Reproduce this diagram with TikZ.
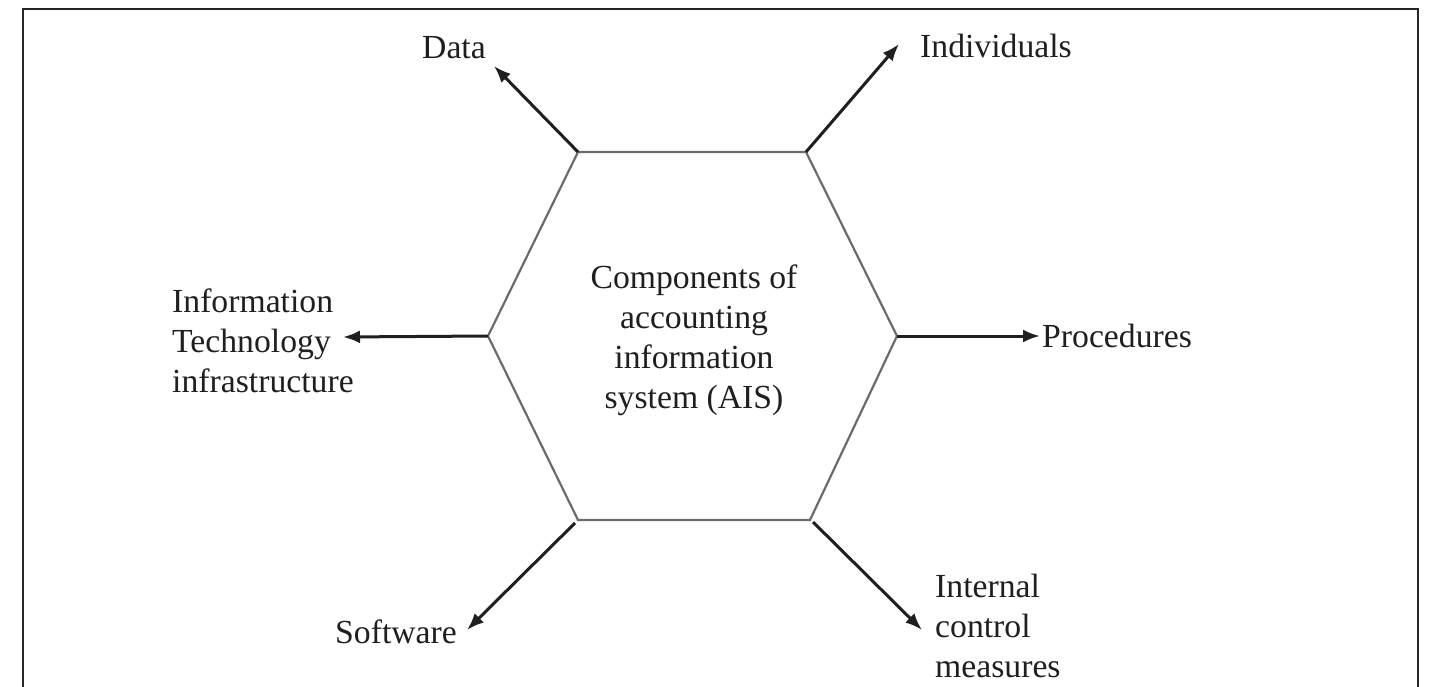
\documentclass[tikz,border=0pt]{standalone}
\usepackage{fontspec}
\setmainfont{Liberation Serif}
\usetikzlibrary{arrows.meta}
\begin{document}
\begin{tikzpicture}[x=1pt,y=-1pt,
  lbl/.style={font=\fontsize{33.7}{40}\selectfont, inner sep=0pt, align=left, text=black!88},
  hexline/.style={draw=black!58, line width=2.2pt, line join=miter},
  arr/.style={-{Latex[length=17pt,width=13pt]}, line width=3pt, draw=black!88},
  frame/.style={draw=black!85, line width=2.5pt}]
\useasboundingbox (0,0) rectangle (1436,687);
% frame (bottom edge lies below the picture)
\draw[frame] (23,687) -- (23,9) -- (1418,9) -- (1418,687);
% hexagon vertices
\coordinate (hTL) at (578,152);
\coordinate (hTR) at (806,152);
\coordinate (hR)  at (897,336);
\coordinate (hBR) at (810,520);
\coordinate (hBL) at (578,520);
\coordinate (hL)  at (488,336);
\draw[hexline] (hTL) -- (hTR) -- (hR) -- (hBR) -- (hBL) -- (hL) -- cycle;
% labels
\node[lbl, align=center] (ais) at (694,340) {Components of\\accounting\\information\\system (AIS)};
\node[lbl, anchor=base] (data) at (454,59) {Data};
\node[lbl, anchor=base west] (indiv) at (920,58) {Individuals};
\node[lbl, anchor=base west] (proc) at (1042,347) {Procedures};
\node[lbl, anchor=west] (itinf) at (172,341) {Information\\Technology\\infrastructure};
\node[lbl, anchor=base west] (soft) at (335,643) {Software};
\node[lbl, anchor=west] (icm) at (935,626) {Internal\\control\\measures};
% arrow tips
\coordinate (tData)  at (494,66);
\coordinate (tIndiv) at (899,44);
\coordinate (tProc)  at (1040,336);
\coordinate (tIT)    at (343,337);
\coordinate (tSoft)  at (467,630);
\coordinate (tICM)   at (922,630);
% arrows
\draw[arr] (hTL) -- (tData);
\draw[arr] (hTR) -- (tIndiv);
\draw[arr] (hR) -- (tProc);
\draw[arr] (hL) -- (tIT);
\draw[arr] ([shift={(-3,3)}]hBL) -- (tSoft);
\draw[arr] ([shift={(3,2)}]hBR) -- (tICM);
\end{tikzpicture}
\end{document}
